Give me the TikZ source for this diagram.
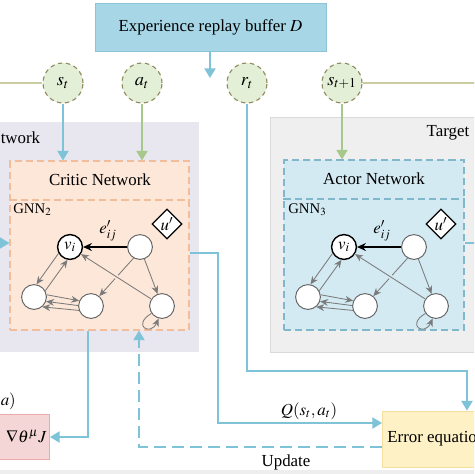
\documentclass[tikz,border=0pt]{standalone}
\usepackage{mathptmx}
\usepackage{fontspec}
\setmainfont{Liberation Serif}
\usepackage{tikz}
\usetikzlibrary{
  arrows.meta,
  shapes.geometric,
  positioning,
  calc
}
\definecolor{rlBlue}{HTML}{7FC3D9}
\definecolor{rlBuffer}{HTML}{A7D7E7}
\definecolor{rlBufferLine}{HTML}{8CC3D6}
\definecolor{rlGreen}{HTML}{A6C88A}
\definecolor{rlOlive}{HTML}{CBCC9F}
\definecolor{rlState}{HTML}{E4EFD8}
\definecolor{rlStateLine}{HTML}{8F8B5E}
\definecolor{rlOnline}{HTML}{E8E6EF}
\definecolor{rlTarget}{HTML}{EFEFEF}
\definecolor{rlTargetLine}{HTML}{DADADA}
\definecolor{rlCritic}{HTML}{FDE7D8}
\definecolor{rlCriticLine}{HTML}{F2BD9A}
\definecolor{rlActor}{HTML}{D3EAF3}
\definecolor{rlActorLine}{HTML}{80B7CB}
\definecolor{rlGrad}{HTML}{F5D6D6}
\definecolor{rlGradLine}{HTML}{E9ABAB}
\definecolor{rlError}{HTML}{FEF1C6}
\definecolor{rlErrorLine}{HTML}{F6DE9F}
\definecolor{rlEdge}{HTML}{7A7A7A}
\definecolor{rlStrip}{HTML}{EEEEEE}
\tikzset{
  rlbox/.style={
    inner sep=0pt, font=\fontsize{12}{14}\selectfont
  },
  buffer/.style={rlbox, fill=rlBuffer, draw=rlBufferLine, line width=0.6pt,
    minimum width=57.75mm, minimum height=12mm},
  online/.style={rlbox, fill=rlOnline, minimum width=54.75mm, minimum height=57.5mm},
  target/.style={rlbox, fill=rlTarget, draw=rlTargetLine, line width=0.6pt,
    minimum width=56mm, minimum height=58.75mm},
  netbox/.style={rlbox, line width=0.8pt, dash pattern=on 1.8mm off 1mm},
  critic/.style={netbox, fill=rlCritic, draw=rlCriticLine,
    minimum width=44.75mm, minimum height=42.25mm},
  actor/.style={netbox, fill=rlActor, draw=rlActorLine,
    minimum width=45mm, minimum height=42.5mm},
  grad/.style={rlbox, fill=rlGrad, draw=rlGradLine, line width=0.6pt,
    text width=18mm, align=right, inner xsep=0.75mm, minimum height=11.25mm},
  error/.style={rlbox, fill=rlError, draw=rlErrorLine, line width=0.6pt,
    inner xsep=1.25mm, minimum height=14mm},
  statenode/.style={circle, fill=rlState, draw=rlStateLine, line width=0.8pt,
    dash pattern=on 1.1mm off 0.9mm, minimum size=10mm, inner sep=0pt,
    font=\fontsize{13}{15}\selectfont},
  gnode/.style={circle, draw=black!60, fill=white, line width=0.7pt,
    minimum size=6.2mm, inner sep=0pt},
  vnode/.style={gnode, draw=black, line width=1pt, font=\fontsize{12}{14}\selectfont},
  unode/.style={diamond, draw=black, fill=white, line width=0.8pt,
    minimum size=7.5mm, inner sep=0pt, font=\fontsize{12}{14}\selectfont},
  blueline/.style={rlBlue, line width=0.9pt},
  bluearrow/.style={blueline, -{Triangle[length=2.4mm, width=2.8mm]}},
  bluedash/.style={bluearrow, dash pattern=on 3mm off 1.5mm},
  greenarrow/.style={rlGreen, line width=0.9pt, -{Triangle[length=2.4mm, width=2.8mm]}},
  oliveline/.style={rlOlive, line width=0.8pt},
  gedge/.style={rlEdge, line width=0.6pt, -{Stealth[length=2mm, width=1.7mm]}},
  kedge/.style={black, line width=0.9pt, -{Stealth[length=2.2mm, width=2mm]}},
  tag/.style={inner sep=1pt, font=\fontsize{12}{14}\selectfont},
  gnntag/.style={inner sep=0pt, font=\fontsize{10.5}{12}\selectfont}
}

\begin{document}
\begin{tikzpicture}[x=0.25mm, y=-0.25mm]
  \useasboundingbox (0,0) rectangle (474,474);
  \clip (0,0) rectangle (474,474);
  \fill[rlStrip] (0,470) rectangle (474,480);

  \node[online] (online) at (89.5,237) {};
  \node[target] (target) at (382,234.5) {};
  \node[tag, inner sep=0pt, anchor=west] (onlinetag) at (0.5,138) {twork};
  \node[tag, anchor=west] (targettag) at (425,133) {Target};

  \node[critic] (critic) at (99.5,245.5) {};
  \node[actor] (actor) at (374,245) {};
  \draw[netbox, draw=rlCriticLine] (critic.west |- 0,200) -- (critic.east |- 0,200);
  \draw[netbox, draw=rlActorLine] (actor.west |- 0,199) -- (actor.east |- 0,199);
  \node[tag] (critictag) at (100,180) {Critic Network};
  \node[tag] (actortag) at (374,179) {Actor Network};
  \node[gnntag, anchor=north west] (gnn2) at (13,203) {GNN$_2$};
  \node[gnntag, anchor=north west] (gnn3) at (288,203) {GNN$_3$};

  \node[buffer] (buffer) at (210.5,27) {Experience replay buffer $D$};
  \node[statenode] (st) at (63,83) {$s_t$};
  \node[statenode] (at) at (142,83) {$a_t$};
  \node[statenode] (rt) at (247,83) {$r_t$};
  \node[statenode] (st1) at (342,83) {$s_{t+1}$};

  \node[grad, anchor=east] (grad) at (50,436.5) {$\nabla\theta^{\mu}J$};
  \node[tag, inner sep=0pt, anchor=west] (gradtag) at (0.5,401) {$a)$};
  \node[error, anchor=west] (error) at (382,439) {Error equation};

  \foreach \p/\dx/\bg in {c/0/rlCritic, a/274/rlActor}{
    \begin{scope}[shift={(\dx,0)}]
      \node[vnode] (\p-v) at (70,247) {$v_i$};
      \node[gnode] (\p-tr) at (140,247) {};
      \node[gnode] (\p-bl) at (34,297) {};
      \node[gnode] (\p-bm) at (91,306) {};
      \node[gnode] (\p-br) at (162,306) {};
      \node[unode] (\p-u) at (167,224) {$u'$};
      \draw[kedge] (\p-tr) -- (\p-v);
      \node[tag] (\p-e) at (108,231) {$e'_{ij}$};
      \draw[gedge] (\p-tr.240) -- (\p-bm.50);
      \draw[gedge, preaction={draw=\bg, line width=3pt, -}] (\p-br.147) -- (\p-v.327);
      \draw[gedge] (\p-tr.290) -- (\p-br.110);
      \draw[gedge] (\p-v.209) -- (\p-bl.79);
      \draw[gedge] (\p-bl.29) -- (\p-v.259);
      \draw[gedge] (\p-bl.10) -- (\p-bm.156);
      \draw[gedge] (\p-bm.178) -- (\p-bl.340);
      \draw[gedge] (\p-bm.200) -- (\p-bl.310);
      \draw[gedge] (\p-br.215) .. controls +(-20,12) and +(-8,18) .. (\p-br.255);
    \end{scope}
  }

  \coordinate (bufout) at (210,78);
  \draw[bluearrow] (buffer.south -| bufout) -- (bufout);
  \coordinate (stleft) at (-10,83);
  \coordinate (st1right) at (484,83);
  \draw[oliveline] (st.west) -- (stleft);
  \draw[oliveline] (st1.east) -- (st1right);
  \draw[bluearrow] (st.south) -- (st.south |- critic.north);
  \draw[greenarrow] (at.south) -- (at.south |- critic.north);
  \draw[greenarrow] (st1.south) -- (st1.south |- actor.north);

  \coordinate (critin) at (-10,243);
  \draw[bluearrow] (critin) -- (critin -| critic.west);
  \coordinate (actout) at (484,243);
  \draw[blueline] (actor.east |- actout) -- (actout);

  \coordinate (rbend) at (467,371);
  \draw[bluearrow] (rt.south) |- (rbend) -- (rbend |- error.north);

  \coordinate (qbend) at (218,253);
  \draw[bluearrow] (critic.east |- qbend) -- (qbend) |- (error.west |- 0,423);
  \node[tag] (qtag) at (309,411) {$Q(s_t,a_t)$};

  \coordinate (gbend) at (88,437);
  \draw[bluearrow] (gbend |- critic.south) -- (gbend) -- (gbend -| grad.east);

  \coordinate (ubend) at (139,447);
  \draw[bluedash] (error.west |- ubend) -- (ubend) -- (ubend |- critic.south);
  \node[tag] (updatetag) at (286,462) {Update};
\end{tikzpicture}
\end{document}
